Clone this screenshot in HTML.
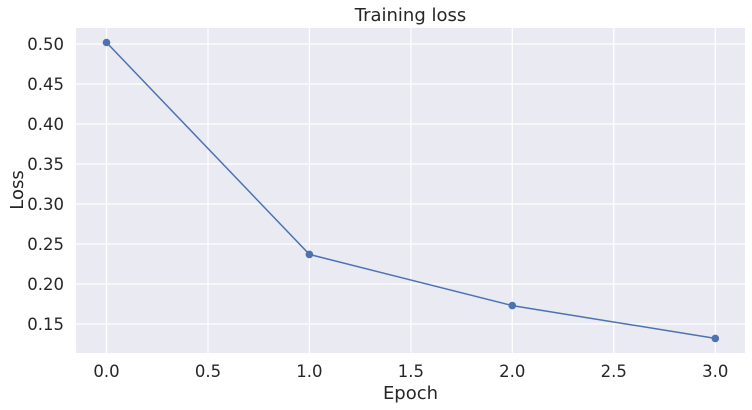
<!DOCTYPE html><html><head><meta charset="utf-8"><style>body{margin:0;background:#fff}svg{display:block}text{font-family:"DejaVu Sans","Liberation Sans",sans-serif;fill:#262626}</style></head><body>
<svg width="752" height="410" xmlns="http://www.w3.org/2000/svg">
<rect x="76" y="28" width="669" height="325" fill="#eaeaf2"/>
<g stroke="#fff" stroke-width="1.2">
<line x1="106.5" y1="28" x2="106.5" y2="353"/><line x1="208" y1="28" x2="208" y2="353"/><line x1="309.4" y1="28" x2="309.4" y2="353"/><line x1="410.9" y1="28" x2="410.9" y2="353"/><line x1="512.3" y1="28" x2="512.3" y2="353"/><line x1="613.8" y1="28" x2="613.8" y2="353"/><line x1="715.3" y1="28" x2="715.3" y2="353"/>
<line x1="76" y1="44" x2="745" y2="44"/><line x1="76" y1="84" x2="745" y2="84"/><line x1="76" y1="124" x2="745" y2="124"/><line x1="76" y1="164" x2="745" y2="164"/><line x1="76" y1="204" x2="745" y2="204"/><line x1="76" y1="244" x2="745" y2="244"/><line x1="76" y1="284" x2="745" y2="284"/><line x1="76" y1="324" x2="745" y2="324"/>
</g>
<polyline points="106.5,42.5 309.4,254.4 512.3,305.6 715.3,338.4" fill="none" stroke="#4c72b0" stroke-width="1.5"/>
<g fill="#4c72b0"><circle cx="106.5" cy="42.5" r="3.8"/><circle cx="309.4" cy="254.4" r="3.8"/><circle cx="512.3" cy="305.6" r="3.8"/><circle cx="715.3" cy="338.4" r="3.8"/></g>
<g font-size="16.5" text-anchor="end">
<text x="64" y="50">0.50</text><text x="64" y="90">0.45</text><text x="64" y="130">0.40</text><text x="64" y="170">0.35</text><text x="64" y="210">0.30</text><text x="64" y="250">0.25</text><text x="64" y="290">0.20</text><text x="64" y="330">0.15</text>
</g>
<g font-size="16.5" text-anchor="middle">
<text x="106.5" y="377">0.0</text><text x="208" y="377">0.5</text><text x="309.4" y="377">1.0</text><text x="410.9" y="377">1.5</text><text x="512.3" y="377">2.0</text><text x="613.8" y="377">2.5</text><text x="715.3" y="377">3.0</text>
<text x="410.5" y="399" font-size="18">Epoch</text>
<text x="410.5" y="21" font-size="18">Training loss</text>
</g>
<text transform="translate(23,190) rotate(-90)" font-size="18" text-anchor="middle">Loss</text>
</svg></body></html>
